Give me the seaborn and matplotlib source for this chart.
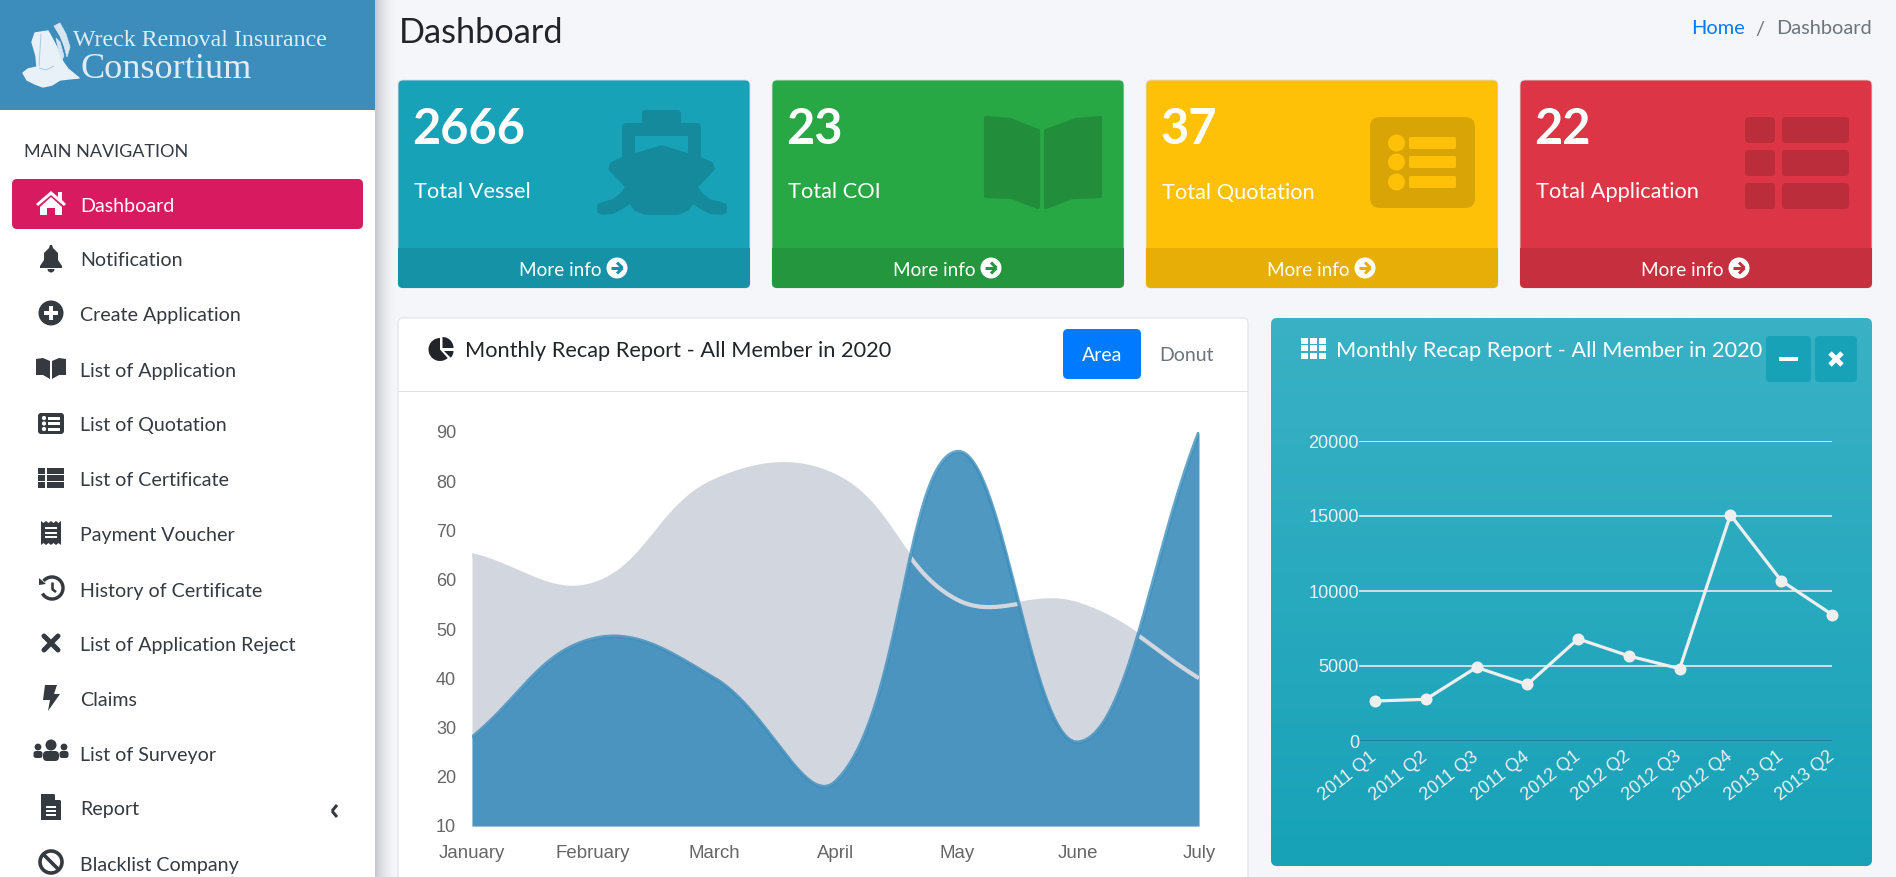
import numpy as np
import pandas as pd
import matplotlib
matplotlib.use("Agg")
import matplotlib.pyplot as plt
from matplotlib.patches import Rectangle, FancyBboxPatch, Polygon, Circle, Wedge, Arc
import seaborn as sns

# ---------- data ----------
months = ["January", "February", "March", "April", "May", "June", "July"]
gray_values = [65, 59, 80, 81, 56, 55, 40]
blue_values = [28, 48, 40, 19, 86, 27, 90]
quarters = ["2011 Q1", "2011 Q2", "2011 Q3", "2011 Q4", "2012 Q1",
            "2012 Q2", "2012 Q3", "2012 Q4", "2013 Q1", "2013 Q2"]
revenue = [2666, 2778, 4912, 3767, 6810, 5670, 4820, 15073, 10687, 8432]
area_ticks = [10, 20, 30, 40, 50, 60, 70, 80, 90]
line_ticks = [0, 5000, 10000, 15000, 20000]
card_values = ["2666", "23", "37", "22"]
card_labels = ["Total Vessel", "Total COI", "Total Quotation", "Total Application"]
nav_items = ["Dashboard", "Notification", "Create Application", "List of Application",
             "List of Quotation", "List of Certificate", "Payment Voucher",
             "History of Certificate", "List of Application Reject", "Claims",
             "List of Surveyor", "Report", "Blacklist Company"]

W, H = 1896, 877
sns.set_theme(style="white")
UI = ["Lato", "DejaVu Sans"]
plt.rcParams["font.family"] = UI
fig = plt.figure(figsize=(W / 100, H / 100), dpi=100, facecolor="#f4f6f9")
PX = 0.72

bg = fig.add_axes([0, 0, 1, 1], zorder=0)
bg.set_xlim(0, W)
bg.set_ylim(H, 0)
bg.axis("off")


def rect(x0, y0, x1, y1, c, z=1, **k):
    bg.add_patch(Rectangle((x0, y0), x1 - x0, y1 - y0, fc=c, ec="none", zorder=z, **k))


def rr(x0, y0, x1, y1, r, c, z=1, ec="none", lw=0):
    p = FancyBboxPatch((x0, y0), x1 - x0, y1 - y0, boxstyle=f"round,pad=0,rounding_size={r}",
                       fc=c, ec=ec, lw=lw, zorder=z)
    bg.add_patch(p)
    return p


def poly(pts, c, z=3, lw=0):
    bg.add_patch(Polygon(pts, closed=True, fc=c, ec=c, lw=lw, joinstyle="round", zorder=z))


def circ(x, y, r, c, z=3):
    bg.add_patch(Circle((x, y), r, fc=c, ec="none", zorder=z))


def seg(x0, y0, x1, y1, c, w, z=3, cap="butt"):
    bg.plot([x0, x1], [y0, y1], color=c, lw=w * PX, solid_capstyle=cap, zorder=z)


def T(x, y, s, px, c, ha="left", weight="normal", family=None, va="center"):
    return bg.text(x, y + 1.5, s, fontsize=px * PX, color=c, ha=ha, va=va, weight=weight,
                   family=family or UI, zorder=6)


# ---------- page chrome ----------
for i in range(22):
    a = (1 - i / 22) ** 2 * 0.30
    rect(375 + i, 0, 376 + i, H, (0.35, 0.37, 0.42, a), z=0.5)
rect(0, 0, 375, H, "#ffffff", z=1)
rect(0, 0, 375, 110, "#3c8dbc", z=2)

# logo
LOGO = "#e8f1f8"
poly([(32, 42), (35, 33), (48, 31), (53, 40), (58, 50), (63, 62), (68, 69), (79, 78), (68, 79), (60, 80),
      (52, 85), (43, 87), (35, 84), (27, 80), (23, 73), (28, 69), (37, 67), (36, 56)], LOGO, lw=1)
seg(41, 34, 39, 66, "#a9cbe2", 1.0, z=3.2)
seg(39, 68, 46, 70, "#a9cbe2", 1.0, z=3.2)
seg(46, 70, 54, 66, "#a9cbe2", 1.0, z=3.2)
poly([(54, 26), (60, 23), (66, 34), (70, 47), (67, 57), (64, 46), (60, 36)], "#d5e5f1", lw=0.5)
poly([(56, 38), (60, 42), (64, 56), (62, 60), (58, 48)], "#d5e5f1", lw=0.5)
T(73, 39, "Wreck Removal Insurance", 23.9, "#dfecf5", family=["Liberation Serif"])
T(81, 67.5, "Consortium", 36.2, "#dfecf5", family=["Liberation Serif"])

T(24, 150.5, "MAIN NAVIGATION", 18, "#343a40")
rr(12, 179, 363, 229, 5, "#d81b60", z=2)

ICON = "#343a40"


def ic_home(x, y, c):
    poly([(x - 15, y + 1), (x, y - 12), (x + 7, y - 6), (x + 7, y - 11), (x + 11, y - 11), (x + 11, y - 3),
          (x + 15, y + 1), (x + 13, y + 3), (x, y - 8), (x - 13, y + 3)], c)
    poly([(x - 11, y + 4), (x, y - 6), (x + 11, y + 4), (x + 11, y + 12), (x + 4, y + 12), (x + 4, y + 5),
          (x - 4, y + 5), (x - 4, y + 12), (x - 11, y + 12)], c)


def ic_bell(x, y, c):
    poly([(x - 1, y - 13), (x + 1, y - 13), (x + 2, y - 10), (x + 7, y - 5), (x + 7, y + 2), (x + 11, y + 8), (x + 11, y + 10),
          (x - 11, y + 10), (x - 11, y + 8), (x - 7, y + 2), (x - 7, y - 5), (x - 2, y - 10)], c)
    bg.add_patch(Wedge((x, y + 11), 3.5, 0, 180, fc=c, ec="none", zorder=3))


def ic_plus(x, y, c):
    circ(x, y, 12.5, c)
    rect(x - 7, y - 2, x + 7, y + 2, "#ffffff", z=4)
    rect(x - 2, y - 7, x + 2, y + 7, "#ffffff", z=4)


def ic_book(x, y, c):
    poly([(x - 15, y - 9), (x - 8, y - 10), (x - 1, y - 7), (x - 1, y + 11), (x - 8, y + 7), (x - 15, y + 7)], c)
    poly([(x + 15, y - 9), (x + 8, y - 10), (x + 1, y - 7), (x + 1, y + 11), (x + 8, y + 7), (x + 15, y + 7)], c)


def ic_listalt(x, y, c):
    rr(x - 13, y - 10, x + 13, y + 11, 3, c, z=3)
    for d in (-5, 0.5, 6):
        circ(x - 7, y + d, 2.1, "#ffffff", z=4)
        rect(x - 3, y + d - 1.5, x + 9, y + d + 1.5, "#ffffff", z=4)


def ic_thlist(x, y, c):
    for d in (-10, -3, 4):
        rect(x - 13, y + d, x - 6, y + d + 6, c, z=3)
        rect(x - 4, y + d, x + 13, y + d + 6, c, z=3)


def ic_receipt(x, y, c):
    top = [(x - 10 + i * 2.5, y - 12 + (i % 2) * 2) for i in range(9)]
    bot = [(x + 10 - i * 2.5, y + 12 - (i % 2) * 2) for i in range(9)]
    poly(top + bot, c)
    for d in (-6, -1.5, 3):
        rect(x - 6, y + d, x + 6, y + d + 2, "#ffffff", z=4)


def ic_history(x, y, c):
    bg.add_patch(Arc((x + 1, y), 22, 22, theta1=-140, theta2=150, ec=c, lw=3.4 * PX, zorder=3))
    poly([(x - 12, y - 10), (x - 5, y - 4), (x - 12, y - 3)], c)
    seg(x + 1, y - 6, x + 1, y + 1, c, 2.6)
    seg(x + 1, y + 1, x + 5, y + 4, c, 2.6)


def ic_times(x, y, c):
    seg(x - 7, y - 7, x + 7, y + 7, c, 5, cap="round")
    seg(x - 7, y + 7, x + 7, y - 7, c, 5, cap="round")


def ic_bolt(x, y, c):
    poly([(x - 6, y - 13), (x + 6, y - 13), (x + 3, y - 4), (x + 9, y - 4), (x - 3, y + 13), (x - 1, y + 2), (x - 8, y + 2)], c)


def ic_users(x, y, c):
    circ(x, y - 7, 5.5, c)
    rr(x - 8, y - 1, x + 8, y + 9, 4, c, z=3)
    for s in (-1, 1):
        circ(x + s * 13, y - 5, 3.4, c)
        rr(x + s * 13 - 4.5, y - 1, x + s * 13 + 4.5, y + 6, 2.5, c, z=3)


def ic_file(x, y, c):
    poly([(x - 10, y - 13), (x + 3, y - 13), (x + 10, y - 6), (x + 10, y + 13), (x - 10, y + 13)], c)
    poly([(x + 4, y - 13), (x + 4, y - 7), (x + 10, y - 7)], "#ffffff", z=4)
    for d in (-1, 3, 7):
        rect(x - 5, y + d, x + 5, y + d + 1.8, "#ffffff", z=4)


def ic_ban(x, y, c):
    bg.add_patch(Circle((x, y), 11, fc="none", ec=c, lw=3.6 * PX, zorder=3))
    seg(x - 8, y - 8, x + 8, y + 8, c, 3.6)


icons = [ic_home, ic_bell, ic_plus, ic_book, ic_listalt, ic_thlist, ic_receipt, ic_history,
         ic_times, ic_bolt, ic_users, ic_file, ic_ban]
nav_y = [205, 260, 315, 370, 425, 480, 535, 590, 645, 700, 754, 809, 864]
for i, (name, yy, fn) in enumerate(zip(nav_items, nav_y, icons)):
    col = "#ffffff" if i == 0 else ICON
    T(80, yy - 0.5, name, 19.7, col)
    fn(51, yy - 2, col)
seg(337, 805, 332, 811, ICON, 3)
seg(332, 811, 337, 817, ICON, 3)

# header
T(399, 31.5, "Dashboard", 34.3, "#212529")
T(1691, 27.5, "Home", 20, "#007bff")
T(1755, 27.5, "/", 20, "#6c757d")
T(1872, 27.5, "Dashboard", 20, "#6c757d", ha="right")

# cards
card_x = [(398, 750), (772, 1124), (1146, 1498), (1520, 1872)]
card_col = ["#17a2b8", "#28a745", "#ffc107", "#dc3545"]


def shade(c, f):
    r, g, b = matplotlib.colors.to_rgb(c)
    return (r * f, g * f, b * f)


for (x0, x1), col, val, lab in zip(card_x, card_col, card_values, card_labels):
    foot = shade(col, 0.9)
    rr(x0, 80, x1, 288, 5, col, z=1, ec="#dfe2e6", lw=0.6)
    rect(x0, 248, x1, 282, foot, z=1.2)
    rr(x0, 272, x1, 288, 5, foot, z=1.1)
    T(x0 + 14.5, 128, val, 48.7, "#ffffff", weight="bold")
    T(x0 + 16, 191, lab, 21.8, "#ffffff")
    off = x0 - 398
    T(602 + off, 268.5, "More info", 18.9, "#ffffff", ha="right")
    cx = 617 + off
    circ(cx, 268, 10.5, "#ffffff", z=4)
    seg(cx - 6, 268, cx + 5, 268, foot, 3, z=5)
    seg(cx, 262.5, cx + 5.5, 268, foot, 3, z=5)
    seg(cx, 273.5, cx + 5.5, 268, foot, 3, z=5)

# card icons
d0 = shade(card_col[0], 0.85)
rr(642, 110, 681, 128, 4, d0, z=2)
rr(622, 123, 701, 160, 5, d0, z=2)
poly([(635, 136), (688, 136), (688, 154), (661.5, 146), (635, 154)], card_col[0], z=2.1)
poly([(661.5, 146), (701, 158), (712, 163), (714, 169), (697, 187), (702, 194), (710, 200), (722, 203),
      (726, 205), (726, 212), (722, 214), (710, 213), (702, 209), (693, 203), (688, 210), (678, 214),
      (645, 214), (635, 210), (630, 203), (621, 209), (613, 213), (602, 214), (598, 212), (598, 205),
      (602, 203), (613, 200), (621, 194), (626, 187), (609, 169), (611, 163), (622, 158)], d0, z=2.2, lw=1.2)

d1 = shade(card_col[1], 0.85)
poly([(986, 118), (1010, 120), (1038, 131), (1038, 207), (1012, 197), (986, 196)], d1, z=2, lw=3)
poly([(1100, 118), (1076, 120), (1046, 131), (1046, 207), (1072, 197), (1100, 196)], d1, z=2, lw=3)

d2 = shade(card_col[2], 0.85)
rr(1370, 117, 1475, 208, 10, d2, z=2)
for yy in (143, 162, 182):
    bg.add_patch(Circle((1396.5, yy), 8.5, fc=card_col[2], ec="none", zorder=3))
    rr(1409, yy - 6, 1456, yy + 6, 2, card_col[2], z=3)

d3 = shade(card_col[3], 0.85)
for yy in (117, 150, 183):
    rr(1745, yy, 1775, yy + 26, 4, d3, z=2)
    rr(1782, yy, 1849, yy + 26, 4, d3, z=2)

# left panel
rr(398, 318, 1248, 930, 5, "#ffffff", z=1, ec="#dfe2e6", lw=0.8)
rect(398, 390.5, 1248, 391.7, "#dee2e6", z=1.1)
bg.add_patch(Wedge((440, 349.5), 11.5, 48, 270, fc="#212529", ec="none", zorder=3))
bg.add_patch(Wedge((442.5, 348), 11, 270, 360, fc="#212529", ec="none", zorder=3))
bg.add_patch(Wedge((444, 351), 9.5, 0, 45, fc="#212529", ec="none", zorder=3))
T(465, 349.5, "Monthly Recap Report - All Member in 2020", 21.8, "#212529")
rr(1063, 329, 1141, 379, 5, "#007bff", z=2)
T(1102, 354, "Area", 19.5, "#ffffff", ha="center")
T(1187, 354, "Donut", 19.5, "#6c757d", ha="center")

# right panel with gradient
panel = rr(1271, 318, 1872, 866, 6, "none", z=1)
panel.set_facecolor((0, 0, 0, 0))
top_c = np.array(matplotlib.colors.to_rgb("#3ab1c5"))
bot_c = np.array(matplotlib.colors.to_rgb("#17a2b8"))
grad = np.linspace(0, 1, 256)[:, None, None] * (bot_c - top_c)[None, None, :] + top_c[None, None, :]
im = bg.imshow(grad, extent=(1271, 1872, 866, 318), aspect="auto", zorder=1, interpolation="bilinear")
im.set_clip_path(panel)
bg.set_xlim(0, W)
bg.set_ylim(H, 0)
for a in (0, 1, 2):
    for b in (0, 1, 2):
        rect(1301 + a * 8.8, 338 + b * 7.4, 1301 + a * 8.8 + 7.4, 338 + b * 7.4 + 6, "#ffffff", z=3)
T(1336, 349.5, "Monthly Recap Report - All Member in 2020", 21.8, "#ffffff")
rr(1766, 336, 1811, 382, 4, "#17a2b8", z=2)
rr(1815, 336, 1857, 382, 4, "#17a2b8", z=2)
rect(1779, 357, 1798, 361, "#ffffff", z=3)
seg(1830, 353, 1842, 365, "#ffffff", 4.8)
seg(1830, 365, 1842, 353, "#ffffff", 4.8)


def axes_px(x0, y0, x1, y1):
    ax = fig.add_axes([x0 / W, 1 - y1 / H, (x1 - x0) / W, (y1 - y0) / H], zorder=2)
    ax.patch.set_alpha(0)
    for s in ax.spines.values():
        s.set_visible(False)
    return ax


def chartjs_spline(ax, xs, ys, tension=0.4, n=40):
    """Chart.js bezier through the data points, computed in pixel space."""
    pts = ax.transData.transform(np.column_stack([xs, ys]))
    m = len(pts)
    cp_prev, cp_next = np.zeros((m, 2)), np.zeros((m, 2))
    for i in range(m):
        p, c, q = pts[max(i - 1, 0)], pts[i], pts[min(i + 1, m - 1)]
        d01, d12 = np.hypot(*(c - p)), np.hypot(*(q - c))
        tot = d01 + d12
        cp_prev[i] = c - tension * d01 / tot * (q - p)
        cp_next[i] = c + tension * d12 / tot * (q - p)
    t = np.linspace(0, 1, n)[:, None]
    out = []
    for i in range(m - 1):
        out.append((1 - t) ** 3 * pts[i] + 3 * (1 - t) ** 2 * t * cp_next[i]
                   + 3 * (1 - t) * t ** 2 * cp_prev[i + 1] + t ** 3 * pts[i + 1])
    return ax.transData.inverted().transform(np.vstack(out))


# ---------- area chart ----------
ax1 = axes_px(472, 432, 1199, 826)
ax1.set_xlim(0, len(months) - 1)
ax1.set_ylim(area_ticks[0], area_ticks[-1])
xpos = np.arange(len(months))
gc = chartjs_spline(ax1, xpos, gray_values)
bc = chartjs_spline(ax1, xpos, blue_values)
ax1.fill_between(gc[:, 0], gc[:, 1], area_ticks[0], color="#d2d6de", lw=0, zorder=1)
ax1.fill_between(bc[:, 0], bc[:, 1], area_ticks[0], color="#3c8dbc", alpha=0.9, lw=0, zorder=2)
sns.lineplot(x=gc[:, 0], y=gc[:, 1], sort=False, estimator=None, color="#d2d6de", linewidth=4.2 * PX,
             zorder=3, ax=ax1)
sns.lineplot(x=bc[:, 0], y=bc[:, 1], sort=False, estimator=None, color="#3c8dbc", alpha=0.8,
             linewidth=3.6 * PX, zorder=4, ax=ax1)
for l in ax1.lines:
    l.set_solid_capstyle("butt")
ax1.set_xticks(xpos, months)
ax1.set_yticks(area_ticks)
ax1.set_xlabel("")
ax1.set_ylabel("")
ax1.tick_params(axis="both", length=0, labelcolor="#666666")
ax1.tick_params(axis="x", pad=19 * PX, labelsize=18.7 * PX)
ax1.tick_params(axis="y", pad=16 * PX, labelsize=18 * PX)
for lb in ax1.get_xticklabels() + ax1.get_yticklabels():
    lb.set_family(["Liberation Sans"])

# ---------- line chart ----------
ax2 = axes_px(1359, 441, 1832, 741)
step = (1832 - 1375) / (len(quarters) - 1)
ax2.set_xlim(-(1375 - 1359) / step, len(quarters) - 1)
ax2.set_ylim(line_ticks[0], line_ticks[-1])
qpos = np.arange(len(quarters))
ax2.set_yticks(line_ticks)
ax2.yaxis.grid(True, color="#efefef", lw=1.6 * PX, zorder=1)
ax2.set_axisbelow(True)
ax2.get_ygridlines()[0].set_color("#177e91")
sns.lineplot(x=qpos, y=revenue, color="#efefef", linewidth=3.2 * PX, marker="o",
             markersize=12 * PX, markeredgewidth=0, markerfacecolor="#efefef", zorder=3, ax=ax2)
for l in ax2.lines:
    l.set_clip_on(False)
ax2.set_xticks(qpos, quarters)
ax2.set_xlabel("")
ax2.set_ylabel("")
ax2.tick_params(axis="both", length=0, labelsize=18.2 * PX, labelcolor="#efefef")
ax2.tick_params(axis="y", pad=0)
ax2.tick_params(axis="x", pad=14 * PX)
for lb in ax2.get_yticklabels():
    lb.set_family(["Liberation Sans"])
for lb in ax2.get_xticklabels():
    lb.set_family(["Liberation Sans"])
    lb.set_rotation(38)
    lb.set_ha("right")
    lb.set_rotation_mode("anchor")
    lb.set_va("center")

fig.savefig("out.png", dpi=100, facecolor=fig.get_facecolor())
